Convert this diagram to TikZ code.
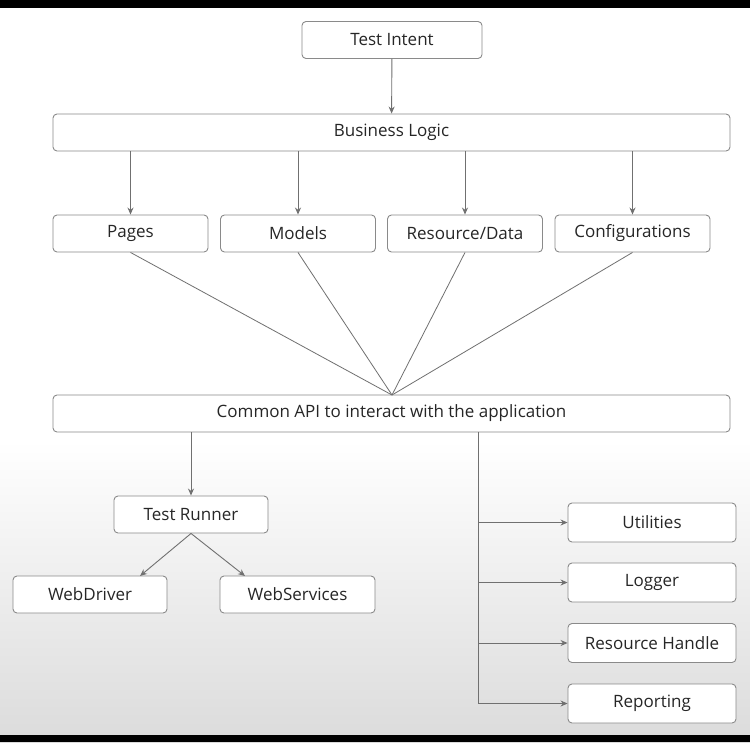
\documentclass[tikz,border=0pt]{standalone}
\usepackage{fontspec}
\setmainfont{Open Sans}
\usetikzlibrary{arrows.meta}
\usetikzlibrary{positioning}
\definecolor{boxline}{HTML}{8A8A8A}
\definecolor{arrowgrey}{HTML}{707070}

\begin{document}
\begin{tikzpicture}[x=1pt, y=-1pt,
	box/.style={draw=boxline, fill=white, rounded corners=4pt, line width=0.9pt, minimum height=37pt, inner sep=0pt, font=\fontsize{17}{19}\selectfont, text=black!85},
	arr/.style={draw=arrowgrey, line width=0.9pt, -{Stealth[length=7pt, width=6pt]}},
	ln/.style={draw=arrowgrey, line width=0.8pt}]
	% background
	\fill[white] (0,0) rectangle (750,440);
	\fill[top color=white, bottom color=black!14] (0,440) rectangle (750,742);
	\fill[black] (0,0) rectangle (750,8);
	\fill[black] (0,735) rectangle (750,742);
	\useasboundingbox (0,0) rectangle (750,742);
	% top part
	\node[box, minimum width=180pt] (intent) at (392,40) {Test Intent};
	\node[box, minimum width=677pt] (logic) at (391.5,132.5) {Business Logic};
	\node[box, minimum width=155pt] (pages) at (130.5,233.5) {Pages};
	\node[box, minimum width=155pt] (models) at (298,233.5) {Models};
	\node[box, minimum width=155pt] (data) at (465,233.5) {Resource/Data};
	\node[box, minimum width=155pt] (config) at (632.5,233.5) {Configurations};
	\node[box, minimum width=677pt] (api) at (391.5,413.5) {Common API to interact with the application};
	\draw[arr] (intent) -- (logic);
	\foreach \n in {pages, models, data, config}
		\draw[arr] (logic.south -| \n) -- (\n);
	\coordinate (meet) at (392,395);
	\foreach \n in {pages, models, data, config}
		\draw[ln] (\n.south) -- (meet);
	% runner side
	\node[box, minimum width=154pt] (runner) at (191,514.5) {Test Runner};
	\node[box, minimum width=154pt] (driver) at (90,594.5) {WebDriver};
	\node[box, minimum width=155pt] (services) at (297.5,594.5) {WebServices};
	\draw[arr] (api.south -| runner) -- (runner);
	\draw[arr] (runner.south) -- (140,576);
	\draw[arr] (runner.south) -- (245,576);
	% helper side
	\node[box, minimum width=168pt, minimum height=39pt] (utils) at (652,522.5) {Utilities};
	\node[box, minimum width=168pt, minimum height=39pt] (logger) at (652,582.5) {Logger};
	\node[box, minimum width=168pt, minimum height=39pt] (handle) at (652,643) {Resource Handle};
	\node[box, minimum width=168pt, minimum height=39pt] (report) at (652,703.5) {Reporting};
	\coordinate (trunk) at (478,432);
	\draw[ln] (trunk) -- (trunk |- report);
	\foreach \n in {utils, logger, handle, report}
		\draw[arr] (trunk |- \n) -- (\n);
\end{tikzpicture}
\end{document}
